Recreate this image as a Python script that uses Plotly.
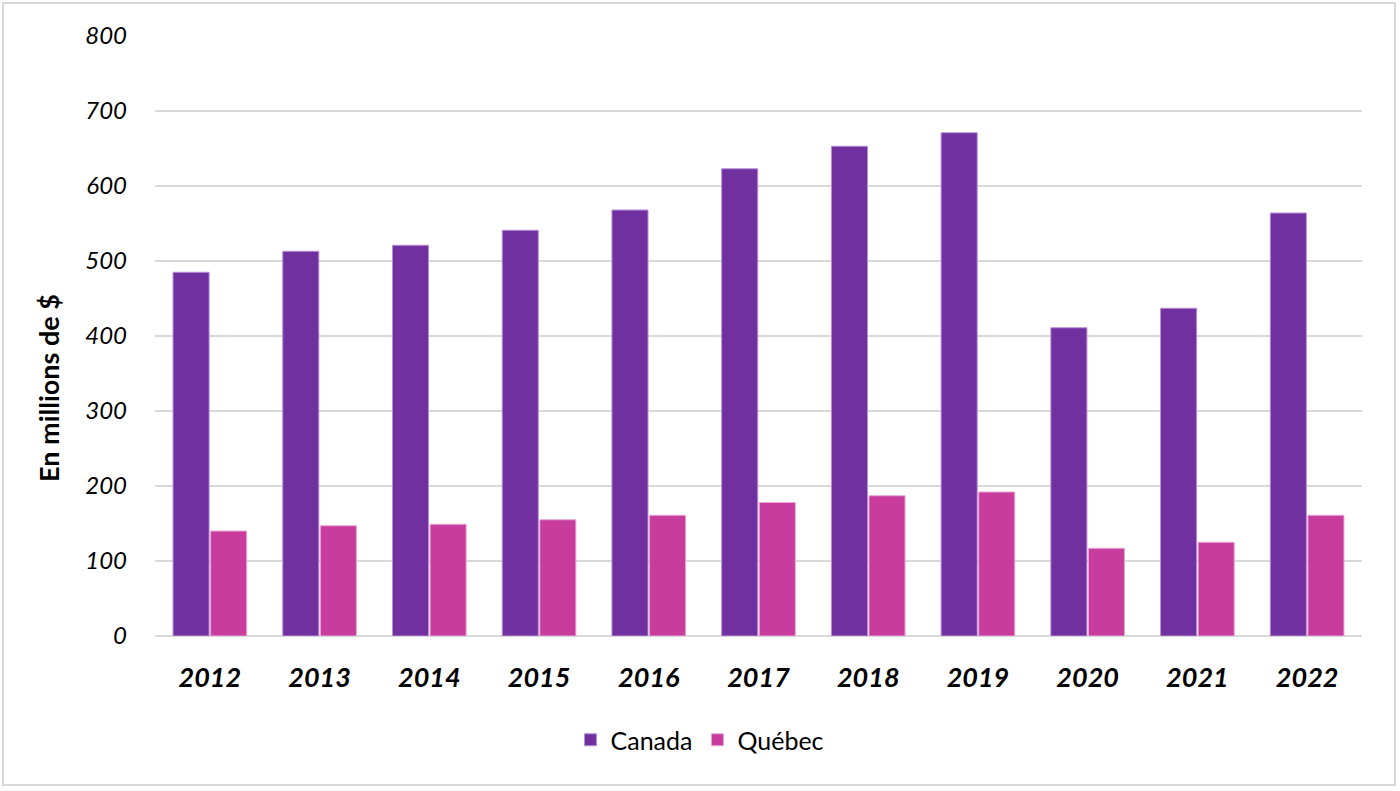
import plotly.graph_objects as go

years = ["2012", "2013", "2014", "2015", "2016", "2017", "2018", "2019", "2020", "2021", "2022"]
canada = [485, 513, 521, 541, 568, 623, 653, 671, 411, 437, 564]
quebec = [140, 147, 149, 155, 161, 178, 187, 192, 117, 125, 161]

W, H = 1400, 791
L, R, T, B = 155, 38, 36, 155

fig = go.Figure()
fig.add_bar(x=years, y=canada, name="Canada", marker=dict(color="#7030A0", line=dict(color="#B98FD6", width=1)))
fig.add_bar(x=years, y=quebec, name="Québec", marker=dict(color="#C83C9E", line=dict(color="#E8A6D6", width=1)))

pw = W - L - R
ph = H - T - B
fig.add_shape(type="rect", xref="paper", yref="paper",
              x0=(3 - L) / pw, x1=(W - 5 - L) / pw,
              y0=-(H - 6 - T - ph) / ph, y1=1 + (T - 3) / ph,
              line=dict(color="#D9D9D9", width=2), fillcolor="rgba(0,0,0,0)", layer="below")

fig.add_annotation(text="<b>En millions de $</b>", textangle=-90, showarrow=False,
                   xref="paper", yref="paper", x=(48 - L) / pw, y=(T + ph - 388) / ph,
                   xanchor="center", yanchor="middle", font=dict(size=27, color="black"))

fig.update_layout(
    width=W, height=H,
    margin=dict(l=L, r=R, t=T, b=B, autoexpand=False),
    paper_bgcolor="white", plot_bgcolor="white",
    barmode="group", bargap=0.315, bargroupgap=0.04,
    font=dict(family="Lato, Open Sans, sans-serif", color="black"),
    legend=dict(orientation="h", x=0.5, xanchor="center", xref="container",
                y=1 - 740 / H, yanchor="middle", yref="container",
                font=dict(size=25), traceorder="normal", itemwidth=30),
    showlegend=True,
)
fig.update_yaxes(range=[0, 800], dtick=100, showgrid=True, gridcolor="#D9D9D9", gridwidth=1.5,
                 zeroline=True, zerolinecolor="#D9D9D9", zerolinewidth=1.5,
                 tickfont=dict(size=24, style="italic"), ticks="", ticklabelstandoff=27)
fig.update_xaxes(showgrid=False, showline=False, ticks="",
                 tickfont=dict(size=27, style="italic", weight="bold"), ticklabelstandoff=23)

fig.write_html("out.html")
